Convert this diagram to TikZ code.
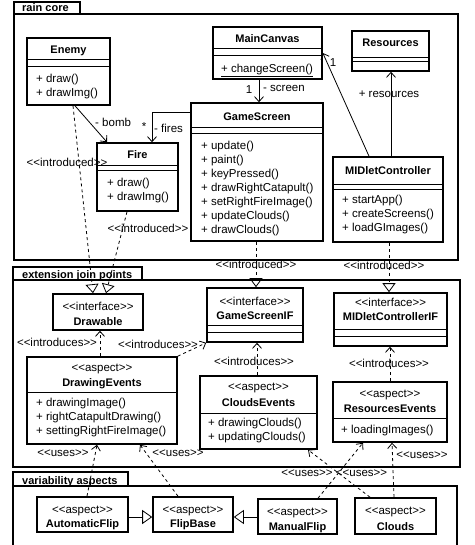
\documentclass[tikz,border=0pt]{standalone}
\usepackage{fontspec}
\setmainfont{Liberation Sans}
\usetikzlibrary{arrows.meta}
\tikzset{
  every node/.style={font=\fontsize{11.5}{14}\selectfont, inner sep=0pt},
  classbox/.style={draw, line width=1.6pt},
  sepline/.style={line width=0.8pt},
  pkgline/.style={line width=1.2pt},
  tabline/.style={line width=1.6pt},
  ctitle/.style={anchor=base, font=\fontsize{11}{14}\selectfont\bfseries},
  stereo/.style={anchor=base},
  meth/.style={anchor=north west, align=left},
  lbl/.style={anchor=base},
  pkgname/.style={anchor=base west, font=\fontsize{11}{14}\selectfont\bfseries},
  assoc/.style={line width=0.8pt, -{Straight Barb[length=5pt,width=9pt]}},
  dep/.style={line width=0.8pt, dash pattern=on 3pt off 3pt, -{Straight Barb[length=5pt,width=9pt]}},
  realize/.style={line width=0.8pt, dash pattern=on 3pt off 3pt, -{Triangle[open,length=9pt,width=13pt]}},
  inherit/.style={line width=0.8pt, -{Triangle[open,length=10pt,width=14pt]}}
}
\newcommand{\umlbox}[5]{%
  \pgfmathsetmacro{\boxw}{#4-#2}%
  \pgfmathsetmacro{\boxh}{#5-#3}%
  \node[classbox, minimum width=\boxw pt, minimum height=\boxh pt] (#1) at ({(#2+#4)/2},{(#3+#5)/2}) {};%
}
\newcommand{\umlsep}[2]{%
  \draw[sepline] (#1.west |- 0,#2) -- (#1.east |- 0,#2);%
}
\newcommand{\ster}[1]{<\kern0pt<#1>\kern0pt>}
\newcommand{\mstrut}{\rule{0pt}{8.5pt}}

\begin{document}
\begin{tikzpicture}[x=1pt,y=-1pt]
  \path[fill=white, use as bounding box] (0,0) rectangle (474,545);
  % packages
  \draw[pkgline] (14,14) rectangle (458,260);
  \draw[tabline] (14,2) rectangle (80,14);
  \node[pkgname] (corepkg) at (22,12) {rain core};
  \draw[pkgline] (13,280) rectangle (460,467);
  \draw[tabline] (13,267) rectangle (142,280);
  \node[pkgname] (joinpkg) at (22,278) {extension join points};
  \draw[pkgline] (13,486) rectangle (457,570);
  \draw[tabline] (13,472) rectangle (128,486);
  \node[pkgname] (varpkg) at (22,484) {variability aspects};

  % rain core classes
  \umlbox{enemy}{27}{38}{110}{105}
  \umlsep{enemy}{59} \umlsep{enemy}{66}
  \node[ctitle] (enemyT) at (68.5,54) {Enemy};
  \node[meth] (enemyM) at (36,74) {\mstrut+ draw()\\+ drawImg()};

  \umlbox{fire}{97}{143}{178}{211}
  \umlsep{fire}{165} \umlsep{fire}{170}
  \node[ctitle] (fireT) at (137.5,159) {Fire};
  \node[meth] (fireM) at (107,178) {\mstrut+ draw()\\+ drawImg()};

  \umlbox{mcanvas}{213}{27}{322}{79}
  \umlsep{mcanvas}{48} \umlsep{mcanvas}{55}
  \node[ctitle] (mcanvasT) at (267.5,43) {MainCanvas};
  \node[meth] (mcanvasM) at (221,64) {\mstrut\underline{+ changeScreen()}};

  \umlbox{res}{352}{31}{429}{71}
  \umlsep{res}{57} \umlsep{res}{61}
  \node[ctitle] (resT) at (390.5,47) {Resources};

  \umlbox{gscreen}{191}{103}{323}{241}
  \umlsep{gscreen}{127} \umlsep{gscreen}{133}
  \node[ctitle] (gscreenT) at (257,121) {GameScreen};
  \node[meth] (gscreenM) at (201,141) {\mstrut+ update()\\+ paint()\\+ keyPressed()\\+ drawRightCatapult()\\+ setRightFireImage()\\+ updateClouds()\\+ drawClouds()};

  \umlbox{mctrl}{333}{157}{443}{242}
  \umlsep{mctrl}{184} \umlsep{mctrl}{189}
  \node[ctitle] (mctrlT) at (388,175) {MIDletController};
  \node[meth] (mctrlM) at (342,195) {\mstrut+ startApp()\\+ createScreens()\\+ loadGImages()};

  % extension join points
  \umlbox{drawable}{53}{294}{143}{330}
  \node[stereo] (drawableS) at (98,310.5) {\ster{interface}};
  \node[ctitle] (drawableT) at (98,325) {Drawable};

  \umlbox{gsif}{207}{288}{303}{342}
  \umlsep{gsif}{325} \umlsep{gsif}{332}
  \node[stereo] (gsifS) at (255,305.5) {\ster{interface}};
  \node[ctitle] (gsifT) at (255,319) {GameScreenIF};

  \umlbox{mcif}{334}{293}{447}{346}
  \umlsep{mcif}{329} \umlsep{mcif}{336}
  \node[stereo] (mcifS) at (390.5,306.5) {\ster{interface}};
  \node[ctitle] (mcifT) at (390.5,320) {MIDletControllerIF};

  \umlbox{drawev}{27}{357}{177}{444}
  \umlsep{drawev}{392}
  \node[stereo] (drawevS) at (102,371.5) {\ster{aspect}};
  \node[ctitle] (drawevT) at (102,386) {DrawingEvents};
  \node[meth] (drawevM) at (36,398) {\mstrut+ drawingImage()\\+ rightCatapultDrawing()\\+ settingRightFireImage()};

  \umlbox{cloudev}{200}{376}{317}{449}
  \umlsep{cloudev}{413}
  \node[stereo] (cloudevS) at (258.5,390.5) {\ster{aspect}};
  \node[ctitle] (cloudevT) at (258.5,406) {CloudsEvents};
  \node[meth] (cloudevM) at (208,418) {\mstrut+ drawingClouds()\\+ updatingClouds()};

  \umlbox{resev}{333}{382}{447}{442}
  \umlsep{resev}{418}
  \node[stereo] (resevS) at (390,397.5) {\ster{aspect}};
  \node[ctitle] (resevT) at (390,412) {ResourcesEvents};
  \node[meth] (resevM) at (341,425) {\mstrut+ loadingImages()};

  % variability aspects
  \umlbox{autoflip}{37}{497}{128}{532}
  \node[stereo] (autoflipS) at (82.5,513.5) {\ster{aspect}};
  \node[ctitle] (autoflipT) at (82.5,527) {AutomaticFlip};

  \umlbox{flipbase}{153}{497}{233}{532}
  \node[stereo] (flipbaseS) at (193,513.5) {\ster{aspect}};
  \node[ctitle] (flipbaseT) at (193,527) {FlipBase};

  \umlbox{manflip}{258}{499}{337}{534}
  \node[stereo] (manflipS) at (297.5,515.5) {\ster{aspect}};
  \node[ctitle] (manflipT) at (297.5,530) {ManualFlip};

  \umlbox{clouds}{355}{498}{436}{534}
  \node[stereo] (cloudsS) at (395.5,514.5) {\ster{aspect}};
  \node[ctitle] (cloudsT) at (395.5,530) {Clouds};

  % associations
  \draw[assoc] (enemy.south -| 75,0) -- (fire.north -| 107,0);
  \node[lbl, anchor=base west] (bombL) at (95,126.5) {- bomb};
  \draw[assoc] (gscreen.west |- 0,112) -| (fire.north -| 152,0);
  \node[lbl] (firesM) at (144,131) {*};
  \node[lbl, anchor=base west] (firesL) at (154,132.5) {- fires};
  \draw[assoc] (mcanvas.south -| 259,0) -- (gscreen.north -| 259,0);
  \node[lbl] (screenM) at (249,94) {1};
  \node[lbl, anchor=base west] (screenL) at (263,91.5) {- screen};
  \draw[assoc] (mctrl.north -| 369,0) -- (mcanvas.east |- 0,53);
  \node[lbl] (canvasM) at (333,67) {1};
  \draw[assoc] (mctrl.north -| 391,0) -- (res.south -| 391,0);
  \node[lbl] (resL) at (389,97.5) {+ resources};

  % introduced
  \draw[realize] (enemy.south -| 73,0) -- (drawable.north -| 93,0);
  \node[lbl] (introA) at (67,166.5) {\ster{introduced}};
  \draw[realize] (fire.south -| 127,0) -- (drawable.north -| 106,0);
  \node[lbl] (introB) at (148,232.5) {\ster{introduced}};
  \draw[realize] (gscreen.south -| 256,0) -- (gsif.north -| 256,0);
  \node[lbl] (introC) at (256,268.5) {\ster{introduced}};
  \draw[realize] (mctrl.south -| 389,0) -- (mcif.north -| 389,0);
  \node[lbl] (introD) at (384,269.5) {\ster{introduced}};

  % introduces
  \draw[dep] (drawev.north -| 100,0) -- (drawable.south -| 100,0);
  \node[lbl] (introsA) at (57,346.5) {\ster{introduces}};
  \draw[dep] (drawev.north east) -- (gsif.south west);
  \node[lbl] (introsB) at (158,348.5) {\ster{introduces}};
  \draw[dep] (cloudev.north -| 257,0) -- (gsif.south -| 257,0);
  \node[lbl] (introsC) at (254,365.5) {\ster{introduces}};
  \draw[dep] (resev.north -| 390,0) -- (mcif.south -| 390,0);
  \node[lbl] (introsD) at (389,367.5) {\ster{introduces}};

  % uses
  \draw[dep] (autoflip.north -| 87,0) -- (drawev.south -| 97,0);
  \node[lbl] (usesA) at (63,456.5) {\ster{uses}};
  \draw[dep] (flipbase.north -| 178,0) -- (drawev.south -| 140,0);
  \node[lbl] (usesB) at (178,456.5) {\ster{uses}};
  \draw[dep] (manflip.north -| 318,0) -- (resev.south -| 363,0);
  \node[lbl] (usesC) at (307,476.5) {\ster{uses}};
  \draw[dep] (clouds.north -| 370,0) -- (cloudev.south -| 308,0);
  \node[lbl] (usesD) at (361.5,476.5) {\ster{uses}};
  \draw[dep] (clouds.north -| 394,0) -- (resev.south -| 392,0);
  \node[lbl] (usesE) at (422,458.5) {\ster{uses}};

  % generalizations
  \draw[inherit] (autoflip.east |- 0,517) -- (flipbase.west |- 0,517);
  \draw[inherit] (manflip.west |- 0,517) -- (flipbase.east |- 0,517);
\end{tikzpicture}
\end{document}
